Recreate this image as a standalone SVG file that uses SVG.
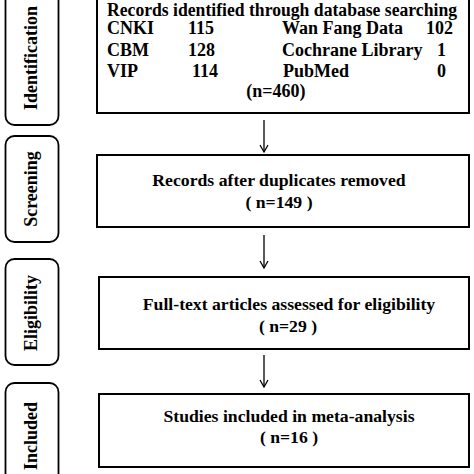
<svg xmlns="http://www.w3.org/2000/svg" width="474" height="474" viewBox="0 0 474 474">
<defs>
<style>
.box{fill:#fff;stroke:#000;stroke-width:2}
.side{fill:#fff;stroke:#000;stroke-width:1.8}
text{font-family:"Liberation Serif","Times New Roman",serif;font-weight:bold;fill:#000}
.t{font-size:18px}
.m{font-size:17.7px;text-anchor:middle}
.s{font-size:18px;text-anchor:middle}
.c{stroke:#000;stroke-width:1.3;fill:none}
</style>
<marker id="ah" markerWidth="10" markerHeight="10" refX="8" refY="5" orient="auto" markerUnits="userSpaceOnUse">
<path d="M1,1 L8,5 L1,9" fill="none" stroke="#000" stroke-width="1.3"/>
</marker>
</defs>
<rect width="474" height="474" fill="#fff"/>
<g id="side-identification">
<rect class="side" x="5.5" y="-12" width="53" height="137" rx="9"/>
<text class="s" transform="translate(37,58) rotate(-90)">Identification</text>
</g>
<g id="side-screening">
<rect class="side" x="5.5" y="136" width="53" height="106" rx="9"/>
<text class="s" transform="translate(37,189) rotate(-90)">Screening</text>
</g>
<g id="side-eligibility">
<rect class="side" x="5.5" y="259" width="53" height="106" rx="9"/>
<text class="s" transform="translate(37,313) rotate(-90)">Eligibility</text>
</g>
<g id="side-included">
<rect class="side" x="5.5" y="383" width="53" height="106" rx="9"/>
<text class="s" transform="translate(37,436) rotate(-90)">Included</text>
</g>
<g id="records">
<rect class="box" x="97" y="-10" width="372" height="123"/>
<text class="t" x="107" y="15.5" textLength="350" lengthAdjust="spacingAndGlyphs">Records identified through database searching</text>
<text class="t" x="107" y="34">CNKI</text>
<text class="t" x="188" y="34">115</text>
<text class="t" x="282" y="34">Wan Fang Data</text>
<text class="t" x="426" y="34">102</text>
<text class="t" x="107" y="56">CBM</text>
<text class="t" x="188" y="56">128</text>
<text class="t" x="282" y="56">Cochrane Library</text>
<text class="t" x="437" y="56">1</text>
<text class="t" x="107" y="77">VIP</text>
<text class="t" x="192" y="77">114</text>
<text class="t" x="283" y="77">PubMed</text>
<text class="t" x="437" y="77">0</text>
<text class="t" x="276" y="97" text-anchor="middle">(n=460)</text>
</g>
<g id="dedup">
<rect class="box" x="97" y="155" width="372" height="72"/>
<text class="m" x="279" y="186">Records after duplicates removed</text>
<text class="m" x="279" y="208">( n=149 )</text>
</g>
<g id="fulltext">
<rect class="box" x="99" y="277" width="370" height="72"/>
<text class="m" x="289" y="310">Full-text articles assessed for eligibility</text>
<text class="m" x="288" y="332">( n=29 )</text>
</g>
<g id="included">
<rect class="box" x="99" y="394" width="370" height="73"/>
<text class="m" x="289" y="422">Studies included in meta-analysis</text>
<text class="m" x="289" y="443">( n=16 )</text>
</g>
<g id="connectors">
<line class="c" x1="264" y1="120" x2="264" y2="152" marker-end="url(#ah)"/>
<line class="c" x1="264" y1="235" x2="264" y2="268" marker-end="url(#ah)"/>
<line class="c" x1="264" y1="355" x2="264" y2="387" marker-end="url(#ah)"/>
</g>
</svg>
